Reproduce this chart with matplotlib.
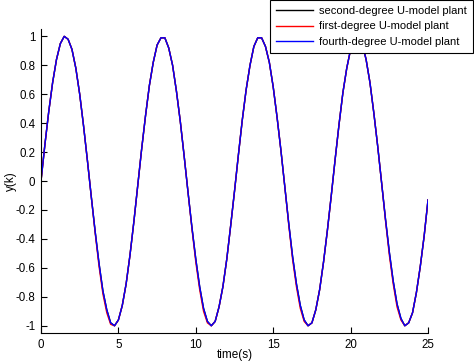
import matplotlib
matplotlib.use('Agg')
import matplotlib.pyplot as plt

plt.rcParams['font.family'] = ['Liberation Sans', 'DejaVu Sans']
plt.rcParams['axes.unicode_minus'] = False

# time axis, 0.25 s steps
t = [i * 0.25 for i in range(101)]

# second- and fourth-degree plants lie on top of each other
y_second = [0.00, 0.25, 0.48, 0.68, 0.84, 0.95, 1.00, 0.98, 0.91, 0.78,
            0.60, 0.38, 0.14, -0.11, -0.35, -0.57, -0.76, -0.89, -0.98, -1.00,
            -0.96, -0.86, -0.71, -0.51, -0.28, -0.03, 0.22, 0.45, 0.66, 0.82,
            0.94, 0.99, 0.99, 0.92, 0.80, 0.62, 0.41, 0.17, -0.08, -0.32,
            -0.54, -0.73, -0.88, -0.97, -1.00, -0.97, -0.87, -0.73, -0.54, -0.31,
            -0.07, 0.18, 0.42, 0.63, 0.80, 0.93, 0.99, 0.99, 0.93, 0.82,
            0.65, 0.44, 0.21, -0.04, -0.29, -0.52, -0.71, -0.86, -0.96, -1.00,
            -0.98, -0.89, -0.75, -0.56, -0.34, -0.10, 0.15, 0.39, 0.61, 0.78,
            0.91, 0.99, 1.00, 0.95, 0.84, 0.68, 0.47, 0.24, -0.01, -0.26,
            -0.49, -0.69, -0.85, -0.95, -1.00, -0.98, -0.91, -0.77, -0.59, -0.38,
            -0.13]
y_fourth = list(y_second)

# first-degree plant dips a little earlier into the troughs
y_first = [0.00, 0.25, 0.48, 0.68, 0.84, 0.95, 1.00, 0.98, 0.91, 0.78,
           0.60, 0.38, 0.14, -0.11, -0.36, -0.59, -0.78, -0.91, -0.99, -1.00,
           -0.96, -0.86, -0.71, -0.51, -0.28, -0.03, 0.22, 0.45, 0.66, 0.82,
           0.94, 0.99, 0.99, 0.92, 0.80, 0.62, 0.41, 0.17, -0.08, -0.33,
           -0.56, -0.75, -0.90, -0.98, -1.00, -0.97, -0.87, -0.73, -0.54, -0.31,
           -0.07, 0.18, 0.42, 0.63, 0.80, 0.93, 0.99, 0.99, 0.93, 0.82,
           0.65, 0.44, 0.21, -0.04, -0.30, -0.54, -0.73, -0.88, -0.97, -1.00,
           -0.98, -0.89, -0.75, -0.56, -0.34, -0.10, 0.15, 0.39, 0.61, 0.78,
           0.91, 0.99, 1.00, 0.95, 0.84, 0.68, 0.47, 0.24, -0.01, -0.27,
           -0.51, -0.71, -0.87, -0.96, -1.00, -0.98, -0.91, -0.77, -0.59, -0.38,
           -0.13]

labels = ['second-degree U-model plant', 'first-degree U-model plant',
          'fourth-degree U-model plant']
colors = ['black', 'red', 'blue']

xticks = [0, 5, 10, 15, 20, 25]
yticks = [-1, -0.8, -0.6, -0.4, -0.2, 0, 0.2, 0.4, 0.6, 0.8, 1]
ytick_labels = ['-1', '-0.8', '-0.6', '-0.4', '-0.2', '0',
                '0.2', '0.4', '0.6', '0.8', '1']

fig = plt.figure(figsize=(4.74, 3.64), dpi=100)
ax = fig.add_axes([0.0865, 0.0852, 0.8165, 0.8348])

for y, c, l in zip([y_second, y_first, y_fourth], colors, labels):
    ax.plot(t, y, color=c, lw=1.0, label=l)

ax.set_xlim(0, 25)
ax.set_ylim(-1.05, 1.05)
ax.set_xticks(xticks)
ax.set_yticks(yticks)
ax.set_yticklabels(ytick_labels)
ax.tick_params(direction='in', length=4, width=0.8, labelsize=8.3, pad=4)
ax.spines['top'].set_visible(False)
ax.spines['right'].set_visible(False)
for s in ['left', 'bottom']:
    ax.spines[s].set_linewidth(0.8)

# axis labels placed by hand, close to the figure edges as in the original
ax.set_xlabel('time(s)', fontsize=8.5, va='center', ha='center')
ax.set_ylabel('y(k)', fontsize=8.5, va='center', ha='center')
ax.xaxis.set_label_coords(0.5, -0.074)
ax.yaxis.set_label_coords(-0.078, 0.5)

leg = ax.legend(loc='upper right', bbox_to_anchor=(0.998, 1.0),
                bbox_transform=fig.transFigure, fontsize=8, fancybox=False,
                framealpha=1, edgecolor='black', borderaxespad=0,
                handlelength=3.3, handletextpad=0.6, labelspacing=0.48,
                borderpad=0.55)
leg.get_frame().set_linewidth(0.8)

fig.savefig('out.png', dpi=100)
